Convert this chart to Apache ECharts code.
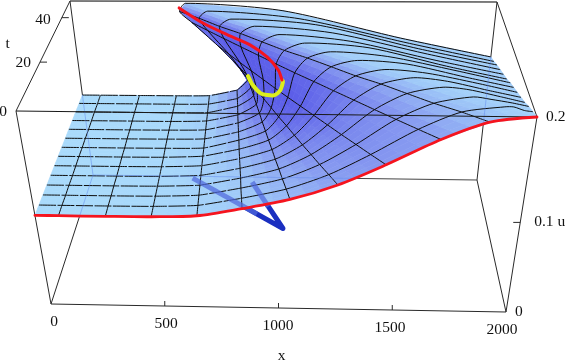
<!DOCTYPE html>
<html><head><meta charset="utf-8">
<style>html,body{margin:0;padding:0;background:#fff}#c{width:567px;height:360px}</style>
<script src="https://cdn.jsdelivr.net/npm/echarts@6/dist/echarts.min.js"></script>
</head><body><div id="c"></div>
<script>
// ---- data: (x, t, u) ----
const xTicks = [0, 500, 1000, 1500, 2000];
const tTicks = [0, 20, 40];
const uTicks = [0, 0.1, 0.2];
const uTickLabels = ['0', '0.1 u', '0.2'];
const tRows = [0, 3.7, 7.4, 11.1, 14.8, 18.5, 22.2, 25.8, 29.5, 33.2, 36.9, 40.6, 44.3, 48];
// one row per t, columns: mesh lines 0..11 then 3 nodes on the far slope
const surfaceX = [
[0,97,290,479,668,855,1051,1244,1433,1641,1823,2000,2000,2000,2000],
[0,96,289,478,665,848,1034,1208,1375,1558,1722,1888,1923,1966,2000],
[0,96,289,477,662,841,1016,1171,1318,1475,1621,1775,1846,1932,2000],
[0,95,288,476,659,835,999,1135,1260,1392,1520,1663,1768,1898,2000],
[0,95,288,475,656,828,981,1098,1203,1310,1419,1551,1691,1864,2000],
[0,94,287,474,653,821,964,1062,1145,1227,1318,1438,1614,1830,2000],
[0,93,286,473,650,814,946,1026,1087,1144,1217,1326,1537,1796,2000],
[0,93,286,471,647,808,929,989,1030,1061,1116,1214,1460,1763,2000],
[0,92,285,470,644,801,911,953,972,978,1015,1102,1383,1729,2000],
[0,92,285,469,641,794,894,916,915,896,914,989,1306,1695,2000],
[0,91,284,468,638,787,876,880,857,813,813,877,1228,1661,2000],
[0,90,283,467,635,781,859,844,799,730,712,765,1151,1627,2000],
[0,90,283,466,632,774,841,807,742,647,611,652,1074,1593,2000],
[0,89,282,465,629,767,824,771,684,565,510,540,997,1559,2000]];
const surfaceU = [
[.1,.1,.1,.1003,.102,.11,.12,.135,.155,.179,.195,.2,.2,.2,.2],
[.1,.1,.1,.1003,.102,.11,.12,.135,.155,.179,.195,.2,.2,.197,.196],
[.1,.1,.1,.1003,.102,.11,.12,.135,.155,.179,.194,.2,.198,.195,.192],
[.1,.1,.1,.1003,.102,.11,.12,.135,.155,.179,.194,.2,.198,.192,.187],
[.1,.1,.1,.1003,.102,.11,.12,.135,.155,.179,.194,.2,.197,.189,.183],
[.1,.1,.1,.1003,.102,.11,.12,.135,.155,.179,.193,.199,.196,.187,.179],
[.1,.1,.1,.1003,.102,.11,.12,.135,.155,.179,.193,.199,.196,.184,.175],
[.1,.1,.1,.1002,.101,.11,.12,.135,.155,.179,.193,.199,.195,.182,.171],
[.1,.1,.1,.1002,.101,.109,.12,.135,.155,.179,.192,.199,.195,.178,.166],
[.1,.1,.1,.1002,.101,.109,.12,.135,.155,.179,.192,.199,.193,.175,.162],
[.1,.1,.1,.1,.101,.108,.12,.135,.155,.179,.192,.199,.193,.173,.158],
[.1,.1,.1,.1,.1005,.108,.12,.135,.155,.179,.191,.198,.193,.170,.154],
[.1,.1,.1,.1,.1005,.107,.12,.135,.155,.179,.191,.198,.191,.167,.149],
[.1,.1,.1,.1,.1005,.107,.12,.135,.155,.179,.19,.198,.191,.164,.145]];
const redCurveX = [509,617,729,837,918,971,989];
const redCurveU = [.1935,.1785,.1668,.1563,.1437,.1298,.1187];
const yellowCurveX = [989,994,969,914,865,823];
const yellowCurveU = [.1187,.1166,.1041,.1017,.1073,.1229];
const beamApex = [1022, 0, .09];
const beamA = [610, 17.9, .09];
const beamB = [876, 16.7, .09];
const beamACross = [909, 5, .09];
const beamBCross = [955, 7.7, .09];

// ---- 3D box projection ----
const xMax = 2000, tMax = 48, uMax = 0.2;
const box = { // view position of the box corners, keyed x t u
 '000':[51,304],'100':[506,312],'001':[16,111],'101':[537,117],
 '010':[93,175],'110':[477,180],'011':[70,1],'111':[497,2]};
const warp = (a,w)=>a*w/(1-a+a*w);
function project(x,t,u){
  const X=x/xMax,T=warp(t/tMax,1.12),U=warp(u/uMax,.85);
  let px=0,py=0;
  for(const a of [0,1])for(const b of [0,1])for(const c of [0,1]){
    const w=(a?X:1-X)*(b?T:1-T)*(c?U:1-U),p=box[''+a+b+c];
    px+=w*p[0];py+=w*p[1];
  }
  return [px,py];
}
const rowCount=tRows.length,nodeCount=surfaceX[0].length;
const P3=(api,p)=>api.coord(project(p[0],p[1],p[2]));
const node=(k,j)=>project(surfaceX[k][j],tRows[k],surfaceU[k][j]);

// shade from the local steepness of u(x)
function steep(k,j){
  const a=Math.max(j-1,0),b=Math.min(j+1,nodeCount-1);
  return Math.abs(surfaceU[k][b]-surfaceU[k][a])/Math.max(Math.abs(surfaceX[k][b]-surfaceX[k][a]),1);
}
function lerpStops(v,xs,ys){
  if(v<=xs[0])return ys[0];
  for(let i=1;i<xs.length;i++) if(v<=xs[i]) return ys[i-1]+(ys[i]-ys[i-1])*(v-xs[i-1])/(xs[i]-xs[i-1]);
  return ys[ys.length-1];
}
const rawShade=(k,j)=>lerpStops(steep(k,j),[0,5e-5,9e-5,3e-4],[0,.12,.45,1]);
const shadeGrid=surfaceX.map((r,k)=>r.map((_,j)=>{
  let s=rawShade(k,j)*2,n=2;
  if(j>0){s+=rawShade(k,j-1);n++;}
  if(j<nodeCount-1){s+=rawShade(k,j+1);n++;}
  if(k>0){s+=rawShade(k-1,j);n++;}
  if(k<rowCount-1){s+=rawShade(k+1,j);n++;}
  return s/n;
}));
const shadeOf=(k,j)=>shadeGrid[k][j];
const colS=[0,.15,.5,1];
const colR=[0xa9,0x9f,0x85,0x5a],colG=[0xda,0xc9,0x97,0x5c],colB=[0xfb,0xf8,0xf0,0xe8];
function colorOf(s){
  return `rgb(${Math.round(lerpStops(s,colS,colR))},${Math.round(lerpStops(s,colS,colG))},${Math.round(lerpStops(s,colS,colB))})`;
}
const SUB=3;
function renderStrip(params,api){
  const k=api.value(0),children=[];
  for(let j=0;j<nodeCount-1;j++){
    const a=node(k,j),b=node(k,j+1),c=node(k+1,j+1),d=node(k+1,j);
    const sa=shadeOf(k,j),sb=shadeOf(k,j+1),sc=shadeOf(k+1,j+1),sd=shadeOf(k+1,j);
    const bi=(v0,v1,v2,v3,u,v)=>(v0*(1-u)+v1*u)*(1-v)+(v3*(1-u)+v2*u)*v;
    const pt=(u,v)=>api.coord([bi(a[0],b[0],c[0],d[0],u,v),bi(a[1],b[1],c[1],d[1],u,v)]);
    for(let m=SUB-1;m>=0;m--)for(let n=0;n<SUB;n++){
      const u0=n/SUB,u1=(n+1)/SUB,v0=m/SUB,v1=(m+1)/SUB;
      const col=colorOf(bi(sa,sb,sc,sd,(u0+u1)/2,(v0+v1)/2));
      children.push({type:'polygon',shape:{points:[pt(u0,v0),pt(u1,v0),pt(u1,v1),pt(u0,v1)]},
        style:{fill:col,stroke:col,lineWidth:.7}});
    }
  }
  return {type:'group',children};
}
function lineEl(pts,stroke,w,smooth,cap,dash){
  return {type:'polyline',shape:{points:pts,smooth:smooth||0},
    style:{fill:null,stroke,lineWidth:w,lineCap:cap||'butt',lineJoin:'round',lineDash:dash||null}};
}
// mesh lines: rows (broken over the flat part, as in the picture) then columns
function renderMesh(params,api){
  const children=[],split=5;
  for(let k=1;k<rowCount;k++){
    const left=[],right=[];
    for(let j=0;j<nodeCount;j++){
      const c=api.coord(node(k,j));
      if(j<=split)left.push(c);
      if(j>=split)right.push(c);
    }
    children.push(lineEl(left,'#0d0d0d',1,.15,'butt',[17,1.5]));
    children.push(lineEl(right,'#0d0d0d',1,.25));
  }
  for(let j=1;j<=10;j++){
    const pts=[];for(let k=0;k<rowCount;k++)pts.push(api.coord(node(k,j)));
    children.push(lineEl(pts,'#0d0d0d',1,.2));
  }
  return {type:'group',children};
}
const edge=(api,a,b,col,w)=>lineEl([P3(api,a),P3(api,b)],col||'#2a2a2a',w||1);
function renderBox(params,api){
  const X=xMax,T=tMax,U=uMax,ch=[];
  const add=(a,b,c,w)=>ch.push(edge(api,a,b,c,w));
  add([0,0,0],[X,0,0]);add([0,0,0],[0,0,U]);add([X,0,0],[X,0,U]);
  add([0,0,U],[0,T,U]);add([X,0,U],[X,T,U]);add([0,T,U],[X,T,U],'#555',1.6);
  add([0,T,U],[0,T,0]);add([X,T,U],[X,T,0]);add([0,0,0],[0,T,0]);add([X,0,0],[X,T,0]);add([0,T,0],[X,T,0],'#444');
  const tick=(p,dx,dy)=>{const v=project(p[0],p[1],p[2]);ch.push(lineEl([api.coord(v),api.coord([v[0]+dx,v[1]+dy])],'#2a2a2a',1));};
  xTicks.slice(1,-1).forEach(x=>tick([x,0,0],0,-5));
  tTicks.slice(1).forEach(t=>tick([0,t,U],7,0));
  uTicks.slice(1,-1).forEach(u=>tick([X,0,u],-7,0));
  return {type:'group',children:ch};
}
function renderBeamsUnder(params,api){
  return {type:'group',children:[
    lineEl([P3(api,beamA),P3(api,beamApex),P3(api,beamB)],'#1a2fc0',5,0,'round')]};
}
function renderOver(params,api){
  const pale='rgba(100,140,240,.5)',beam='rgba(80,105,220,.72)',X=xMax,T=tMax;
  const ch=[
    edge(api,[0,T,.1],[0,T,0],pale,1),
    edge(api,[0,T,0],[0,30.8,0],pale,1),
    edge(api,[0,T,0],[1375,T,0],pale,1),
    edge(api,[X,T,.145],[X,T,.071],pale,1),
    lineEl([P3(api,beamACross),P3(api,beamA)],beam,5),
    lineEl([P3(api,beamBCross),P3(api,beamB)],beam,5),
    edge(api,[0,0,uMax],[X,0,uMax],'#1a1a1a',1.1)
  ];
  const row0=[];for(let j=0;j<12;j++)row0.push(api.coord(node(0,j)));
  ch.push(lineEl(row0,'#f5141e',2.8,.3,'round'));
  ch.push(lineEl(yellowCurveX.map((x,i)=>P3(api,[x,tMax,yellowCurveU[i]])),'#dcee1e',4,.5,'round'));
  ch.push(lineEl(redCurveX.map((x,i)=>P3(api,[x,tMax,redCurveU[i]])),'#f5141e',3,.3,'round'));
  return {type:'group',children:ch};
}
function renderLabels(params,api){
  const font='15.5px "Liberation Serif"',ch=[];
  const text=(p,dx,dy,s,align)=>{const v=project(p[0],p[1],p[2]);const c=api.coord([v[0]+dx,v[1]+dy]);
    ch.push({type:'text',x:c[0],y:c[1],style:{text:s,font,fill:'#111',align:align||'center',verticalAlign:'middle'}});};
  xTicks.forEach(x=>text([x,0,0],3-7*x/xMax,18,String(x)));
  tTicks.forEach(t=>text([0,t,uMax],t==40?-11:-9,t==40?2:0.5,String(t),'right'));
  uTicks.forEach((u,i)=>text([xMax,0,u],i==1?14:9,0,uTickLabels[i],'left'));
  text([1000,0,0],3,48,'x');
  text([0,24,uMax],-37,-9,'t');
  return {type:'group',children:ch};
}
const one=(z,fn)=>({type:'custom',coordinateSystem:'cartesian2d',renderItem:fn,data:[[0]],z,silent:true,animation:false,clip:false,progressive:0});
const stripKeys=[];for(let k=rowCount-2;k>=0;k--)stripKeys.push([k]);
const chart=echarts.init(document.getElementById('c'),null,{renderer:'canvas'});
chart.setOption({
  animation:false,backgroundColor:'#fff',
  grid:{left:0,right:0,top:0,bottom:0},
  xAxis:{type:'value',min:0,max:567,show:false},
  yAxis:{type:'value',min:0,max:360,inverse:true,show:false},
  series:[
    one(1,renderBox),
    one(2,renderBeamsUnder),
    {type:'custom',coordinateSystem:'cartesian2d',renderItem:renderStrip,data:stripKeys,z:3,silent:true,animation:false,clip:false,progressive:0},
    one(4,renderMesh),
    one(5,renderOver),
    one(6,renderLabels)
  ]
});
</script></body></html>
